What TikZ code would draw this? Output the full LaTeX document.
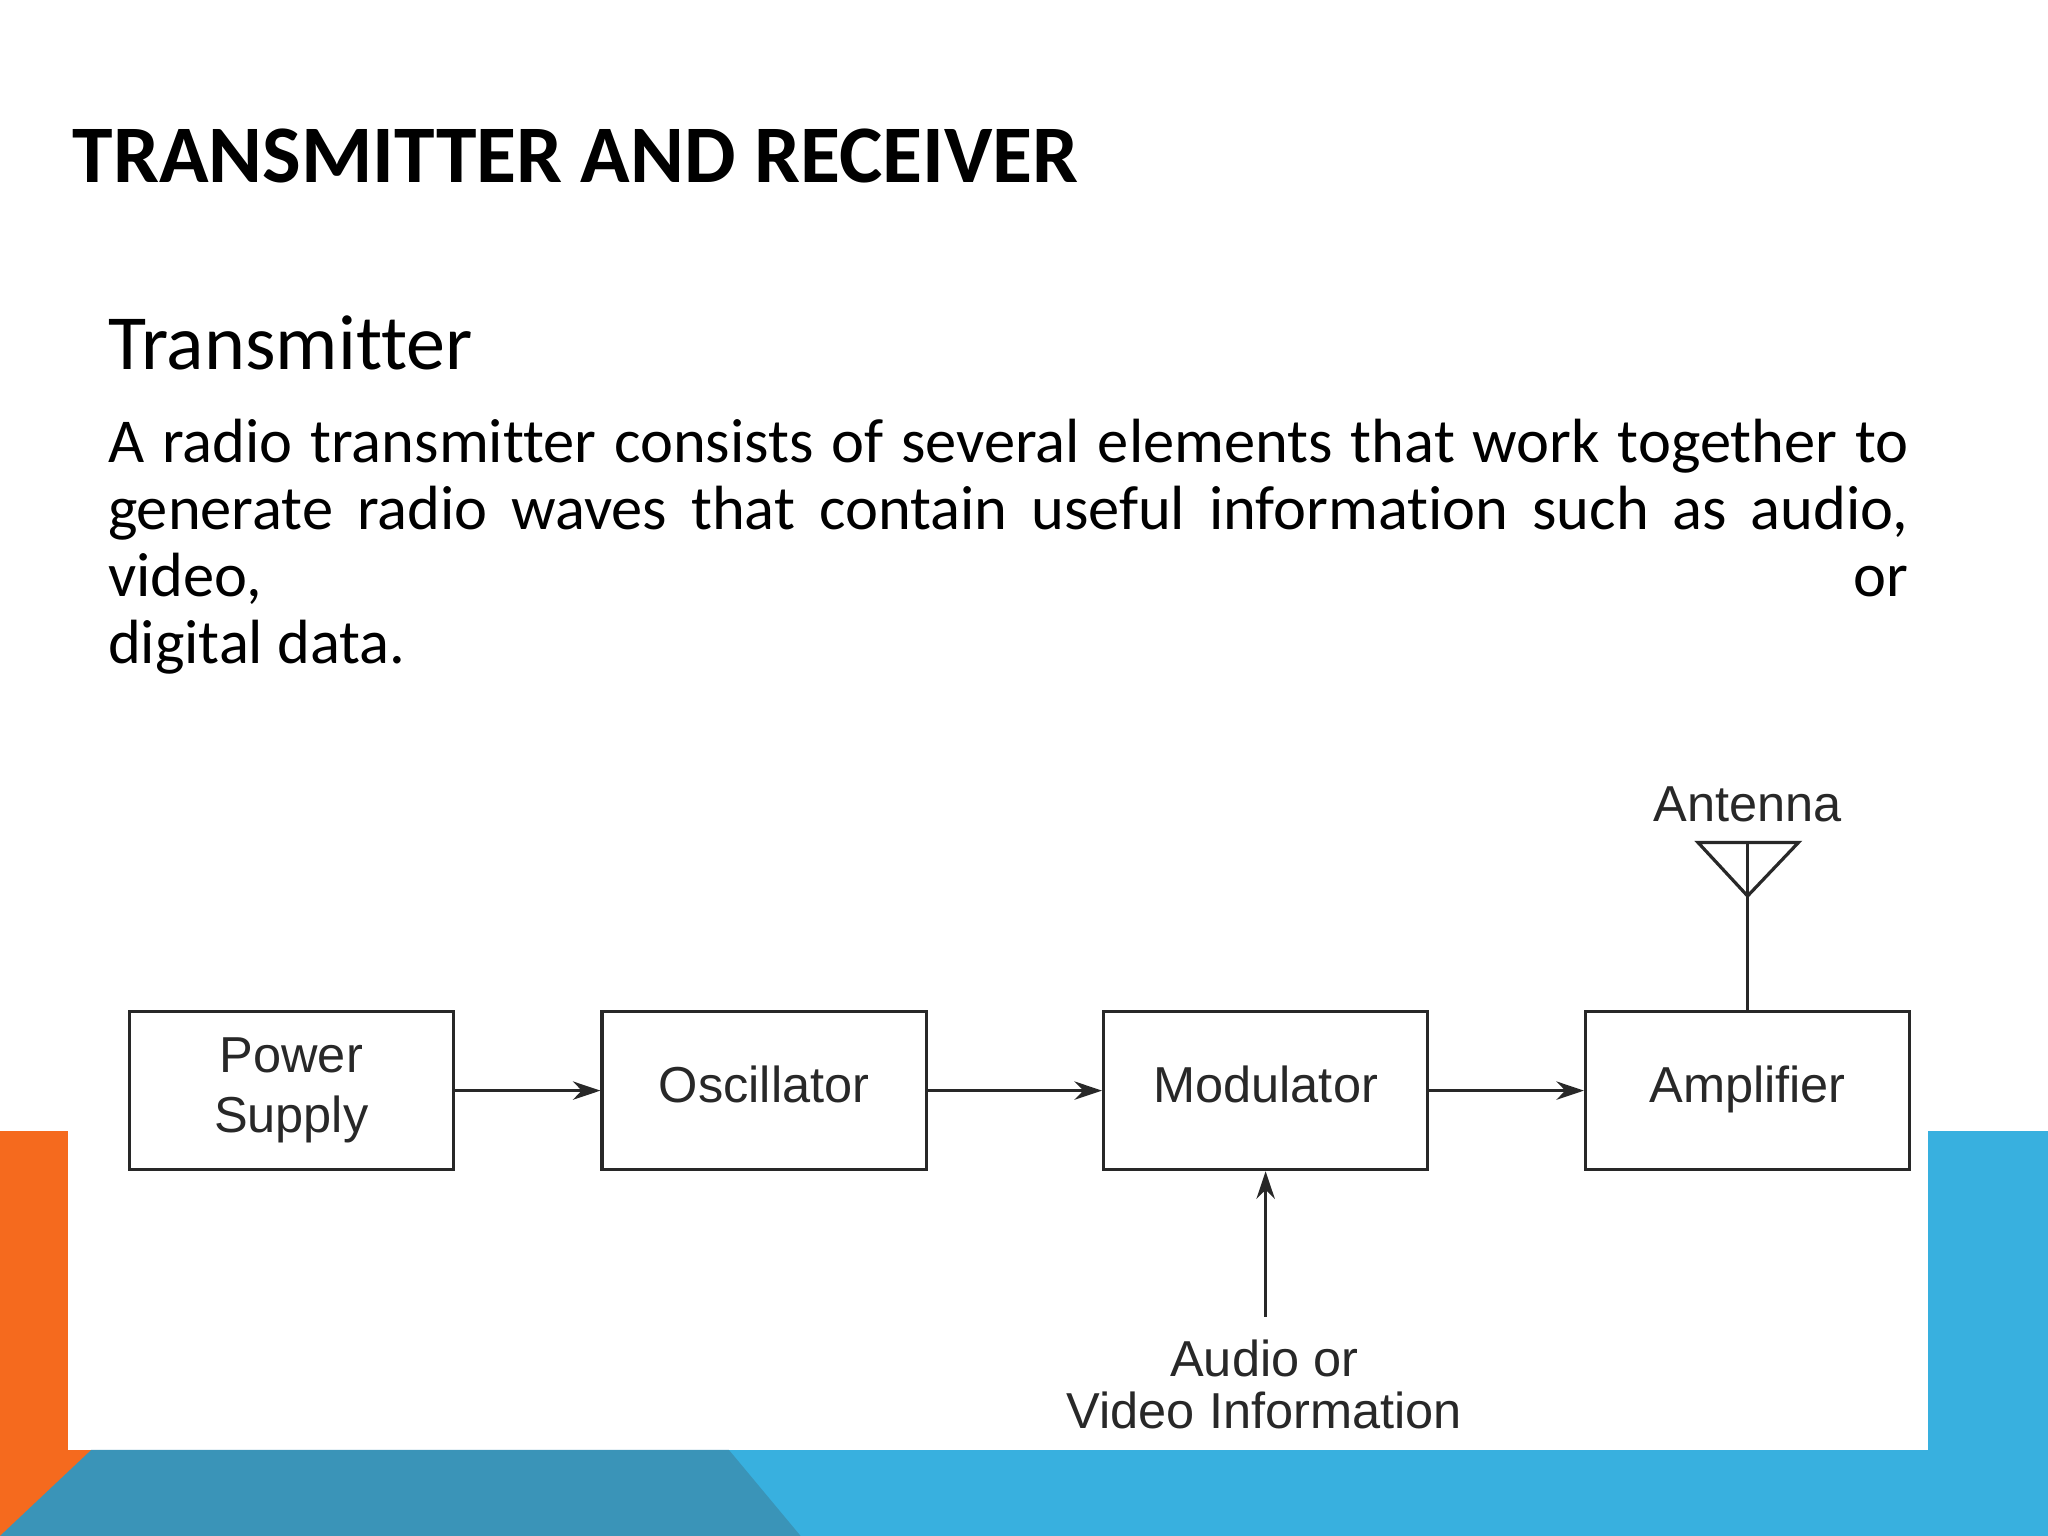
\documentclass[tikz,border=0pt]{standalone}
\usepackage{fontspec}
\setmainfont{Carlito}[Ligatures=NoCommon]
\newfontfamily\diagfont{Liberation Sans}
\usetikzlibrary{arrows.meta}
\definecolor{slideorange}{RGB}{245,106,30}
\definecolor{slideteal}{RGB}{58,148,184}
\definecolor{slideblue}{RGB}{56,176,223}
\definecolor{ink}{RGB}{40,40,40}
\begin{document}
\begin{tikzpicture}[x=0.01cm,y=-0.01cm,
  block/.style={draw=ink, line width=0.7pt, minimum width=2.48cm, minimum height=1.21cm,
    inner sep=0pt, align=center, font=\diagfont\fontsize{11}{13}\selectfont, text=ink},
  lbl/.style={align=center, font=\diagfont\fontsize{11}{11.5}\selectfont, text=ink, inner sep=1pt},
  flow/.style={draw=ink, line width=0.7pt, -{Stealth[length=6pt,width=4pt]}}]
  \useasboundingbox (0,0) rectangle (1568,1176);
  % slide background
  \fill[white] (0,0) rectangle (1568,1176);
  \fill[slideorange] (0,866) rectangle (52,1176);
  \fill[slideorange] (0,1110) rectangle (72,1176);
  \fill[slideblue] (1476,866) rectangle (1568,1176);
  \fill[slideblue] (540,1110) rectangle (1568,1176);
  \fill[slideteal] (70,1110) -- (558,1110) -- (613,1176) -- (0,1176) -- cycle;
  % texts
  \node[anchor=base west, inner sep=0pt, font=\bfseries\fontsize{17.8}{21}\selectfont] (title) at (55,140) {TRANSMITTER AND RECEIVER};
  \node[anchor=base west, inner sep=0pt, font=\fontsize{17}{20}\selectfont] (sub) at (82,283) {Transmitter};
  \node[anchor=north west, inner sep=0pt, text width=392pt, align=justify, font=\fontsize{13.6}{14.6}\selectfont] (body) at (82,320)
    {\hyphenpenalty=10000 A radio transmitter consists of several elements that work together to\linebreak generate radio waves that contain useful information such as audio, video, or\linebreak digital data.};
  % diagram
  \node[block] (ps) at (223,835) {Power\\Supply};
  \node[block] (osc) at (585,835) {\strut Oscillator};
  \node[block] (mod) at (969,835) {\strut Modulator};
  \node[block] (amp) at (1338,835) {\strut Amplifier};
  \node[lbl] (audio) at (968,1060) {Audio or\\Video Information};
  \node[lbl] (ant) at (1338,616) {Antenna};
  \coordinate (ain) at (969,1008);
  \coordinate (apex) at (1338,686);
  \coordinate (tl) at (1300,645);
  \coordinate (tr) at (1377,645);
  \coordinate (atop) at (1338,645);
  \draw[flow] (ps) -- (osc);
  \draw[flow] (osc) -- (mod);
  \draw[flow] (mod) -- (amp);
  \draw[flow] (ain) -- (mod.south);
  \draw[draw=ink, line width=0.7pt] (amp.north) -- (apex);
  \draw[draw=ink, line width=0.7pt] (tl) -- (tr) -- (apex) -- cycle;
  \draw[draw=ink, line width=0.7pt] (atop) -- (apex);
\end{tikzpicture}
\end{document}
